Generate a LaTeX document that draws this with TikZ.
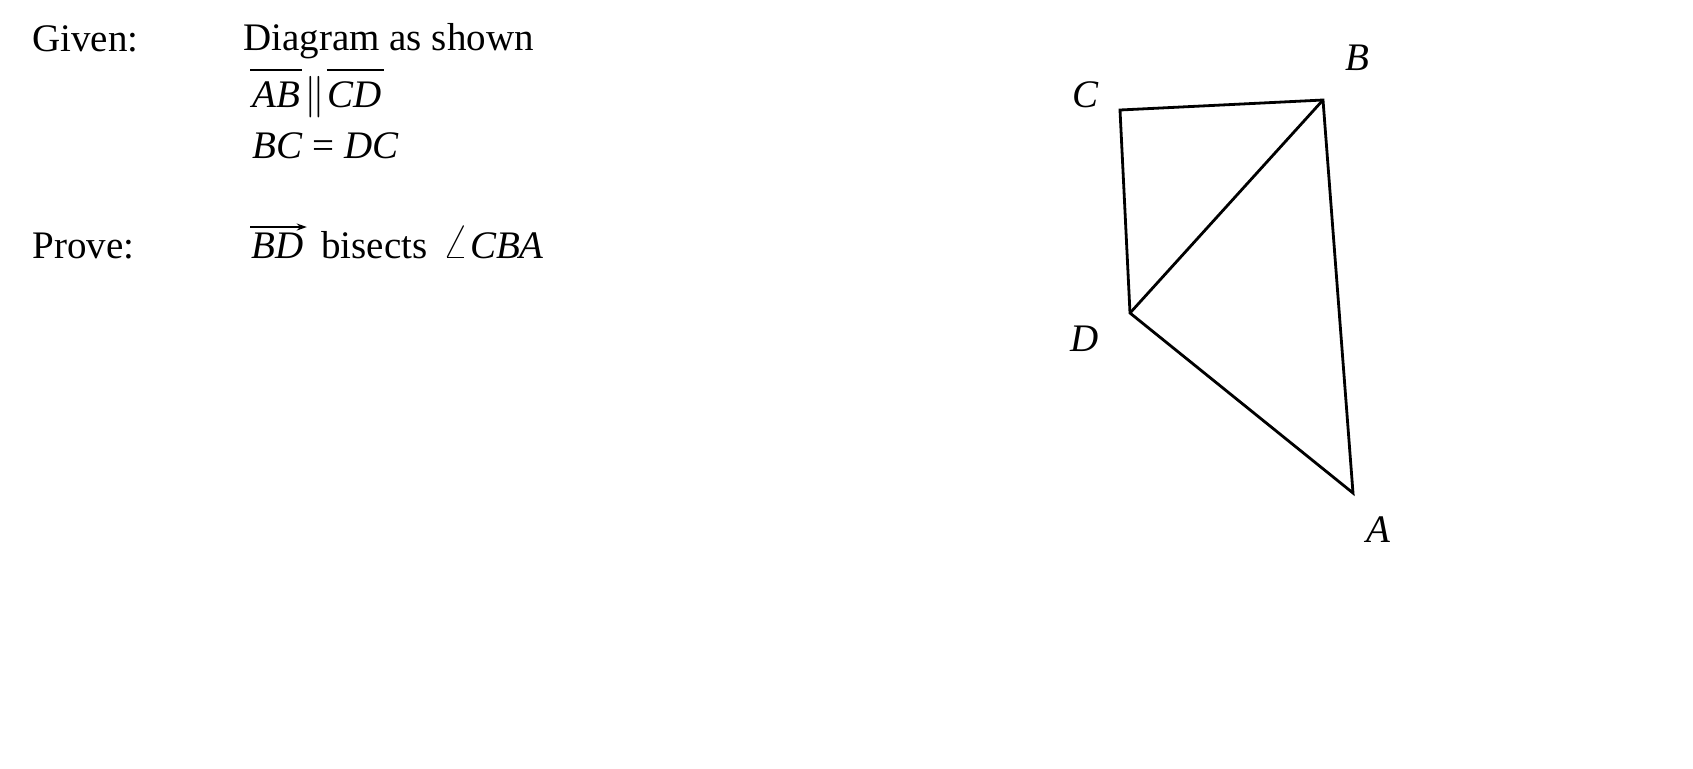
\documentclass[tikz,border=0pt]{standalone}
\usepackage{fontspec}
\setmainfont{Liberation Serif}
\usetikzlibrary{calc,arrows.meta}
\begin{document}
\begin{tikzpicture}[x=0.5pt,y=-0.5pt,
  txt/.style={anchor=base west,inner sep=0pt,font=\fontsize{19.5}{23}\selectfont},
  mth/.style={txt,font=\fontsize{19.5}{23}\selectfont\itshape},
  lbl/.style={inner sep=0pt,font=\fontsize{19.5}{23}\selectfont\itshape},
  bar/.style={line width=0.8pt},
  edge/.style={line width=1.4pt,line join=miter}]
\useasboundingbox (0,0) rectangle (1693,768);
% text
\node[txt] (given) at (32,51) {Given:};
\node[txt] (diag) at (243,50) {Diagram as shown};
\node[mth] (ab) at (252,107) {AB};
\node[txt] (par) at ($(ab.base east)+(4,0)$) {$\|$};
\node[mth] (cd) at ($(par.base east)+(1,0)$) {CD};
\draw[bar] ($(ab.base west)+(-2,-37)$) -- ($(ab.base east)+(2,-37)$);
\draw[bar] ($(cd.base west)+(0,-37)$) -- ($(cd.base east)+(2,-37)$);
\node[mth] (eq) at (252,158) {BC\/ \upshape=\itshape\ DC};
\node[txt] (prove) at (32,258) {Prove:};
\node[mth] (bd) at (251,258) {BD};
\draw[bar,-{Stealth[length=5pt,width=3.5pt]}] ($(bd.base west)+(-1,-31)$) -- ($(bd.base east)+(3,-31)$);
\node[txt] (bis) at ($(bd.base east)+(17,0)$) {bisects};
\node[txt,font=\fontsize{23}{26}\selectfont] (ang) at (442,258) {$\angle$};
\node[mth] (cba) at (ang.base east) {CBA};
% figure
\coordinate (C) at (1120,110);
\coordinate (B) at (1323,100);
\coordinate (D) at (1130,313);
\coordinate (A) at (1353,493);
\draw[edge] (C) -- (B) -- (A) -- (D) -- cycle;
\draw[edge] (B) -- (D);
\node[lbl] (lB) at (1357,58) {B};
\node[lbl] (lC) at (1085,95) {C};
\node[lbl] (lD) at (1085,339) {D};
\node[lbl] (lA) at (1378,530) {A};
\end{tikzpicture}
\end{document}
